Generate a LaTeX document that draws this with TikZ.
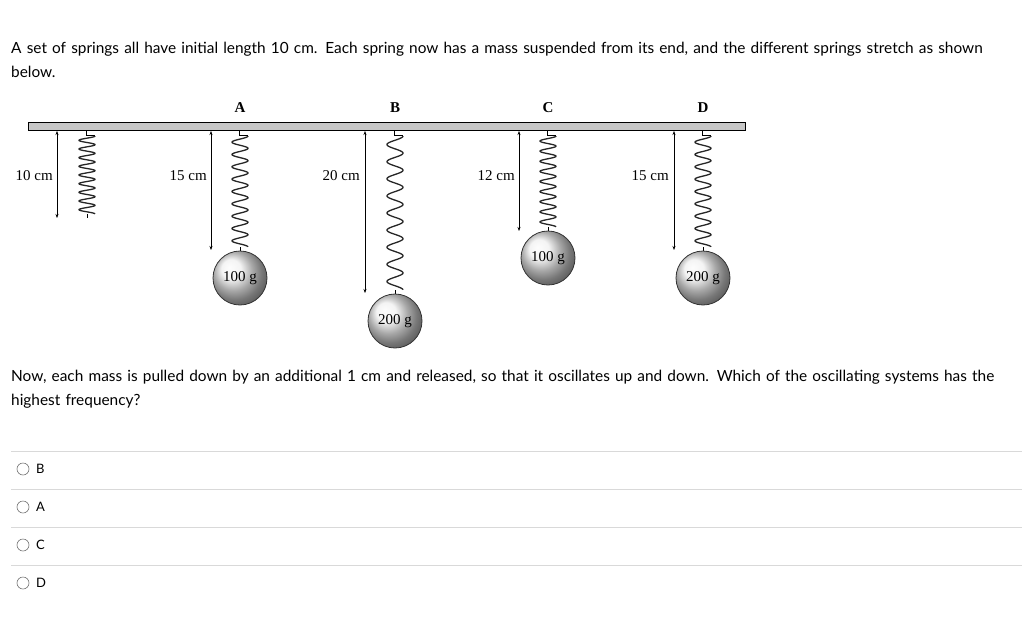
\documentclass[tikz,border=0pt]{standalone}
\usepackage{fontspec}
\setmainfont{Lato}
\newfontfamily\serif{Liberation Serif}
\usetikzlibrary{arrows.meta}
\tikzset{
  ball/.style={circle,draw=black!80,line width=0.8pt,minimum size=54pt,inner sep=0pt,ball color=black!6,font=\serif\fontsize{15}{15}\selectfont},
  lbl/.style={font=\serif\fontsize{15}{15}\selectfont,inner sep=1pt},
  ttl/.style={font=\serif\bfseries\fontsize{15}{15}\selectfont,inner sep=0pt},
  dim/.style={line width=0.5pt,{Stealth[length=4pt,width=3pt]}-{Stealth[length=4pt,width=3pt]}},
  qtext/.style={font=\fontsize{15.4}{24}\selectfont,anchor=north west,inner sep=0pt,align=left,text width=1005pt},
  opt/.style={font=\fontsize{13}{13}\selectfont,anchor=west,inner sep=0pt},
  radio/.style={circle,draw=black!55,line width=0.6pt,minimum size=12pt,inner sep=0pt}
}
\newcommand{\myspring}[3]{% x, top, bottom
  \draw[line width=0.8pt] (#1-1,#2) -- (#1-1,#2+4) -- (#1+8,#2+4);
  \draw[line width=1.3pt,black!85,domain=0:1,samples=400,variable=\t]
    plot ({#1+8*cos(3240*\t)}, {#2+5+(#3-#2-9)*\t});
  \draw[line width=0.8pt] (#1,#3-4) -- (#1,#3);
}
\begin{document}
\begin{tikzpicture}[x=1pt,y=-1pt]
\useasboundingbox (0,0) rectangle (1022,616);
\node[qtext] (q1) at (11,42) {A set of springs all have initial length 10 cm. Each spring now has a mass suspended from its end, and the different springs stretch as shown\\below.};
\node[qtext] (q2) at (11,370) {Now, each mass is pulled down by an additional 1 cm and released, so that it oscillates up and down. Which of the oscillating systems has the\\highest frequency?};
% bar
\draw[fill=black!22,line width=0.8pt] (28,122) rectangle (745,130);
\node[ttl] (tA) at (240,108) {A};
\node[ttl] (tB) at (395,108) {B};
\node[ttl] (tC) at (548,108) {C};
\node[ttl] (tD) at (703,108) {D};
% springs
\myspring{87}{131}{218}
\myspring{240}{131}{251}
\myspring{395}{131}{294}
\myspring{548}{131}{231}
\myspring{703}{131}{251}
\node[ball] (mA) at (240,278) {100 g};
\node[ball] (mB) at (395,321) {200 g};
\node[ball] (mC) at (548,258) {100 g};
\node[ball] (mD) at (703,278) {200 g};
% dimensions
\coordinate (d0t) at (57,131); \coordinate (d0b) at (57,218);
\coordinate (dAt) at (211,131); \coordinate (dAb) at (211,250);
\coordinate (dBt) at (365,131); \coordinate (dBb) at (365,293);
\coordinate (dCt) at (519,131); \coordinate (dCb) at (519,231);
\coordinate (dDt) at (674,131); \coordinate (dDb) at (674,250);
\draw[dim] (d0t) -- (d0b);
\draw[dim] (dAt) -- (dAb);
\draw[dim] (dBt) -- (dBb);
\draw[dim] (dCt) -- (dCb);
\draw[dim] (dDt) -- (dDb);
\node[lbl,anchor=east] (l0) at (54,176) {10 cm};
\node[lbl,anchor=east] (lA) at (208,176) {15 cm};
\node[lbl,anchor=east] (lB) at (361,176) {20 cm};
\node[lbl,anchor=east] (lC) at (516,176) {12 cm};
\node[lbl,anchor=east] (lD) at (670,176) {15 cm};
% options
\foreach \y in {451,489,527,565} \draw[black!15,line width=0.6pt] (11,\y) -- (1022,\y);
\node[radio] (r1) at (23,469) {}; \node[opt] (o1) at (36,469) {B};
\node[radio] (r2) at (23,507) {}; \node[opt] (o2) at (36,507) {A};
\node[radio] (r3) at (23,545) {}; \node[opt] (o3) at (36,545) {C};
\node[radio] (r4) at (23,583) {}; \node[opt] (o4) at (36,583) {D};
\end{tikzpicture}
\end{document}
